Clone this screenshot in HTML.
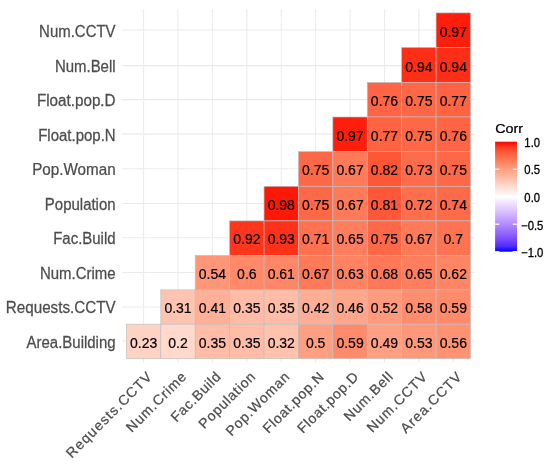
<!DOCTYPE html>
<html lang="en"><head><meta charset="utf-8"><title>Correlation heatmap</title>
<style>html,body{margin:0;padding:0;background:#fff}svg{display:block}text{font-family:"Liberation Sans",sans-serif}</style></head><body>
<svg width="550" height="465" viewBox="0 0 550 465">
<rect width="550" height="465" fill="#fff"/>
<g stroke="#EBEBEB" stroke-width="1.05" fill="none">
<line x1="143.61" y1="9.10" x2="143.61" y2="362.40"/>
<line x1="121.93" y1="29.95" x2="474.63" y2="29.95"/>
<line x1="178.02" y1="9.10" x2="178.02" y2="362.40"/>
<line x1="121.93" y1="65.60" x2="474.63" y2="65.60"/>
<line x1="212.43" y1="9.10" x2="212.43" y2="362.40"/>
<line x1="121.93" y1="99.60" x2="474.63" y2="99.60"/>
<line x1="246.84" y1="9.10" x2="246.84" y2="362.40"/>
<line x1="121.93" y1="134.10" x2="474.63" y2="134.10"/>
<line x1="281.25" y1="9.10" x2="281.25" y2="362.40"/>
<line x1="121.93" y1="168.80" x2="474.63" y2="168.80"/>
<line x1="315.66" y1="9.10" x2="315.66" y2="362.40"/>
<line x1="121.93" y1="203.40" x2="474.63" y2="203.40"/>
<line x1="350.07" y1="9.10" x2="350.07" y2="362.40"/>
<line x1="121.93" y1="237.80" x2="474.63" y2="237.80"/>
<line x1="384.48" y1="9.10" x2="384.48" y2="362.40"/>
<line x1="121.93" y1="272.40" x2="474.63" y2="272.40"/>
<line x1="418.88" y1="9.10" x2="418.88" y2="362.40"/>
<line x1="121.93" y1="307.00" x2="474.63" y2="307.00"/>
<line x1="453.30" y1="9.10" x2="453.30" y2="362.40"/>
<line x1="121.93" y1="341.10" x2="474.63" y2="341.10"/>
</g>
<g stroke="#BEBEBE" stroke-width="0.65">
<rect x="436.09" y="12.90" width="34.41" height="34.50" fill="#FF1E0C"/>
<rect x="401.68" y="47.40" width="34.41" height="35.10" fill="#FF2E16"/>
<rect x="436.09" y="47.40" width="34.41" height="35.10" fill="#FF2E16"/>
<rect x="367.27" y="82.50" width="34.41" height="34.50" fill="#FF6544"/>
<rect x="401.68" y="82.50" width="34.41" height="34.50" fill="#FF6846"/>
<rect x="436.09" y="82.50" width="34.41" height="34.50" fill="#FF6341"/>
<rect x="332.86" y="117.00" width="34.41" height="34.60" fill="#FF1E0C"/>
<rect x="367.27" y="117.00" width="34.41" height="34.60" fill="#FF6341"/>
<rect x="401.68" y="117.00" width="34.41" height="34.60" fill="#FF6846"/>
<rect x="436.09" y="117.00" width="34.41" height="34.60" fill="#FF6544"/>
<rect x="298.45" y="151.60" width="34.41" height="34.70" fill="#FF6846"/>
<rect x="332.86" y="151.60" width="34.41" height="34.70" fill="#FF7A59"/>
<rect x="367.27" y="151.60" width="34.41" height="34.70" fill="#FF5636"/>
<rect x="401.68" y="151.60" width="34.41" height="34.70" fill="#FF6C4B"/>
<rect x="436.09" y="151.60" width="34.41" height="34.70" fill="#FF6846"/>
<rect x="264.04" y="186.30" width="34.41" height="34.60" fill="#FF1708"/>
<rect x="298.45" y="186.30" width="34.41" height="34.60" fill="#FF6846"/>
<rect x="332.86" y="186.30" width="34.41" height="34.60" fill="#FF7A59"/>
<rect x="367.27" y="186.30" width="34.41" height="34.60" fill="#FF5838"/>
<rect x="401.68" y="186.30" width="34.41" height="34.60" fill="#FF6F4D"/>
<rect x="436.09" y="186.30" width="34.41" height="34.60" fill="#FF6A49"/>
<rect x="229.63" y="220.90" width="34.41" height="34.50" fill="#FF361C"/>
<rect x="264.04" y="220.90" width="34.41" height="34.50" fill="#FF3219"/>
<rect x="298.45" y="220.90" width="34.41" height="34.50" fill="#FF7150"/>
<rect x="332.86" y="220.90" width="34.41" height="34.50" fill="#FF7E5E"/>
<rect x="367.27" y="220.90" width="34.41" height="34.50" fill="#FF6846"/>
<rect x="401.68" y="220.90" width="34.41" height="34.50" fill="#FF7A59"/>
<rect x="436.09" y="220.90" width="34.41" height="34.50" fill="#FF7352"/>
<rect x="195.22" y="255.40" width="34.41" height="34.50" fill="#FF9678"/>
<rect x="229.63" y="255.40" width="34.41" height="34.50" fill="#FF8969"/>
<rect x="264.04" y="255.40" width="34.41" height="34.50" fill="#FF8767"/>
<rect x="298.45" y="255.40" width="34.41" height="34.50" fill="#FF7A59"/>
<rect x="332.86" y="255.40" width="34.41" height="34.50" fill="#FF8362"/>
<rect x="367.27" y="255.40" width="34.41" height="34.50" fill="#FF7857"/>
<rect x="401.68" y="255.40" width="34.41" height="34.50" fill="#FF7E5E"/>
<rect x="436.09" y="255.40" width="34.41" height="34.50" fill="#FF8565"/>
<rect x="160.81" y="289.90" width="34.41" height="34.30" fill="#FFC4B0"/>
<rect x="195.22" y="289.90" width="34.41" height="34.30" fill="#FFB097"/>
<rect x="229.63" y="289.90" width="34.41" height="34.30" fill="#FFBCA6"/>
<rect x="264.04" y="289.90" width="34.41" height="34.30" fill="#FFBCA6"/>
<rect x="298.45" y="289.90" width="34.41" height="34.30" fill="#FFAE95"/>
<rect x="332.86" y="289.90" width="34.41" height="34.30" fill="#FFA68B"/>
<rect x="367.27" y="289.90" width="34.41" height="34.30" fill="#FF9A7C"/>
<rect x="401.68" y="289.90" width="34.41" height="34.30" fill="#FF8D6E"/>
<rect x="436.09" y="289.90" width="34.41" height="34.30" fill="#FF8B6C"/>
<rect x="126.40" y="324.20" width="34.41" height="34.40" fill="#FFD3C4"/>
<rect x="160.81" y="324.20" width="34.41" height="34.40" fill="#FFD9CB"/>
<rect x="195.22" y="324.20" width="34.41" height="34.40" fill="#FFBCA6"/>
<rect x="229.63" y="324.20" width="34.41" height="34.40" fill="#FFBCA6"/>
<rect x="264.04" y="324.20" width="34.41" height="34.40" fill="#FFC2AD"/>
<rect x="298.45" y="324.20" width="34.41" height="34.40" fill="#FF9E81"/>
<rect x="332.86" y="324.20" width="34.41" height="34.40" fill="#FF8B6C"/>
<rect x="367.27" y="324.20" width="34.41" height="34.40" fill="#FFA084"/>
<rect x="401.68" y="324.20" width="34.41" height="34.40" fill="#FF987A"/>
<rect x="436.09" y="324.20" width="34.41" height="34.40" fill="#FF9273"/>
</g>
<g font-size="14.0" fill="#000" stroke="#000" stroke-width="0.2" text-anchor="middle">
<text x="453.30" y="36.51">0.97</text>
<text x="418.88" y="71.91">0.94</text>
<text x="453.30" y="71.91">0.94</text>
<text x="384.48" y="106.31">0.76</text>
<text x="418.88" y="106.31">0.75</text>
<text x="453.30" y="106.31">0.77</text>
<text x="350.07" y="140.61">0.97</text>
<text x="384.48" y="140.61">0.77</text>
<text x="418.88" y="140.61">0.75</text>
<text x="453.30" y="140.61">0.76</text>
<text x="315.66" y="175.11">0.75</text>
<text x="350.07" y="175.11">0.67</text>
<text x="384.48" y="175.11">0.82</text>
<text x="418.88" y="175.11">0.73</text>
<text x="453.30" y="175.11">0.75</text>
<text x="281.25" y="209.61">0.98</text>
<text x="315.66" y="209.61">0.75</text>
<text x="350.07" y="209.61">0.67</text>
<text x="384.48" y="209.61">0.81</text>
<text x="418.88" y="209.61">0.72</text>
<text x="453.30" y="209.61">0.74</text>
<text x="246.84" y="244.11">0.92</text>
<text x="281.25" y="244.11">0.93</text>
<text x="315.66" y="244.11">0.71</text>
<text x="350.07" y="244.11">0.65</text>
<text x="384.48" y="244.11">0.75</text>
<text x="418.88" y="244.11">0.67</text>
<text x="453.30" y="244.11">0.7</text>
<text x="212.43" y="278.61">0.54</text>
<text x="246.84" y="278.61">0.6</text>
<text x="281.25" y="278.61">0.61</text>
<text x="315.66" y="278.61">0.67</text>
<text x="350.07" y="278.61">0.63</text>
<text x="384.48" y="278.61">0.68</text>
<text x="418.88" y="278.61">0.65</text>
<text x="453.30" y="278.61">0.62</text>
<text x="178.02" y="313.11">0.31</text>
<text x="212.43" y="313.11">0.41</text>
<text x="246.84" y="313.11">0.35</text>
<text x="281.25" y="313.11">0.35</text>
<text x="315.66" y="313.11">0.42</text>
<text x="350.07" y="313.11">0.46</text>
<text x="384.48" y="313.11">0.52</text>
<text x="418.88" y="313.11">0.58</text>
<text x="453.30" y="313.11">0.59</text>
<text x="143.61" y="347.61">0.23</text>
<text x="178.02" y="347.61">0.2</text>
<text x="212.43" y="347.61">0.35</text>
<text x="246.84" y="347.61">0.35</text>
<text x="281.25" y="347.61">0.32</text>
<text x="315.66" y="347.61">0.5</text>
<text x="350.07" y="347.61">0.59</text>
<text x="384.48" y="347.61">0.49</text>
<text x="418.88" y="347.61">0.53</text>
<text x="453.30" y="347.61">0.56</text>
</g>
<g font-size="15.6" fill="#4D4D4D" stroke="#4D4D4D" stroke-width="0.25" text-anchor="end">
<text transform="translate(115.60,37.15) scale(0.960,1)">Num.CCTV</text>
<text transform="translate(115.60,71.65) scale(0.960,1)">Num.Bell</text>
<text transform="translate(115.60,106.05) scale(0.977,1)">Float.pop.D</text>
<text transform="translate(115.60,140.60) scale(0.960,1)">Float.pop.N</text>
<text transform="translate(115.60,175.45) scale(0.976,1)">Pop.Woman</text>
<text transform="translate(115.60,209.80) scale(0.960,1)">Population</text>
<text transform="translate(115.60,244.35) scale(0.960,1)">Fac.Build</text>
<text transform="translate(115.60,278.95) scale(0.960,1)">Num.Crime</text>
<text transform="translate(115.60,313.35) scale(0.975,1)">Requests.CCTV</text>
<text transform="translate(115.60,348.20) scale(0.960,1)">Area.Building</text>
</g>
<g font-size="14.0" fill="#4D4D4D" stroke="#4D4D4D" stroke-width="0.25" text-anchor="end">
<text transform="translate(145.61,370.70) rotate(-45)" x="1.10" y="10.02" letter-spacing="1.1">Requests.CCTV</text>
<text transform="translate(180.02,370.70) rotate(-45)" x="0.92" y="10.02" letter-spacing="0.92">Num.Crime</text>
<text transform="translate(214.43,370.70) rotate(-45)" x="0.66" y="10.02" letter-spacing="0.66">Fac.Build</text>
<text transform="translate(248.84,370.70) rotate(-45)" x="0.77" y="10.02" letter-spacing="0.77">Population</text>
<text transform="translate(283.25,370.70) rotate(-45)" x="0.82" y="10.02" letter-spacing="0.82">Pop.Woman</text>
<text transform="translate(317.66,370.70) rotate(-45)" x="0.72" y="10.02" letter-spacing="0.72">Float.pop.N</text>
<text transform="translate(352.07,370.70) rotate(-45)" x="0.72" y="10.02" letter-spacing="0.72">Float.pop.D</text>
<text transform="translate(386.48,370.70) rotate(-45)" x="0.80" y="10.02" letter-spacing="0.8">Num.Bell</text>
<text transform="translate(420.88,370.70) rotate(-45)" x="1.00" y="10.02" letter-spacing="1.0">Num.CCTV</text>
<text transform="translate(455.30,370.70) rotate(-45)" x="1.00" y="10.02" letter-spacing="1.0">Area.CCTV</text>
</g>
<defs><linearGradient id="g" x1="0" y1="1" x2="0" y2="0">
<stop offset="0.000" stop-color="#0000FF"/>
<stop offset="0.050" stop-color="#502BFF"/>
<stop offset="0.100" stop-color="#7145FF"/>
<stop offset="0.150" stop-color="#8A5DFF"/>
<stop offset="0.200" stop-color="#A074FF"/>
<stop offset="0.250" stop-color="#B38BFF"/>
<stop offset="0.300" stop-color="#C4A2FF"/>
<stop offset="0.350" stop-color="#D4B9FF"/>
<stop offset="0.400" stop-color="#E3D0FF"/>
<stop offset="0.450" stop-color="#F2E7FF"/>
<stop offset="0.500" stop-color="#FFFFFF"/>
<stop offset="0.550" stop-color="#FFECE5"/>
<stop offset="0.600" stop-color="#FFD9CB"/>
<stop offset="0.650" stop-color="#FFC6B2"/>
<stop offset="0.700" stop-color="#FFB299"/>
<stop offset="0.750" stop-color="#FF9E81"/>
<stop offset="0.800" stop-color="#FF8969"/>
<stop offset="0.850" stop-color="#FF7352"/>
<stop offset="0.900" stop-color="#FF5B3A"/>
<stop offset="0.950" stop-color="#FF3E22"/>
<stop offset="1.000" stop-color="#FF0000"/>
</linearGradient></defs>
<rect x="495.10" y="141.70" width="21.90" height="110.00" fill="url(#g)"/>
<g stroke="#fff" stroke-width="1.2">
<line x1="495.10" y1="169.20" x2="499.40" y2="169.20"/>
<line x1="512.70" y1="169.20" x2="517.00" y2="169.20"/>
<line x1="495.10" y1="196.70" x2="499.40" y2="196.70"/>
<line x1="512.70" y1="196.70" x2="517.00" y2="196.70"/>
<line x1="495.10" y1="224.20" x2="499.40" y2="224.20"/>
<line x1="512.70" y1="224.20" x2="517.00" y2="224.20"/>
<line x1="495.10" y1="251.70" x2="499.40" y2="251.70"/>
<line x1="512.70" y1="251.70" x2="517.00" y2="251.70"/>
</g>
<text transform="translate(495.20,133.00) scale(1.135,1)" font-size="12.6" fill="#000" stroke="#000" stroke-width="0.25">Corr</text>
<g font-size="12.2" fill="#000" stroke="#000" stroke-width="0.3" text-anchor="middle">
<text transform="translate(532.20,146.77) scale(0.925,1)">1.0</text>
<text transform="translate(532.20,174.42) scale(0.925,1)">0.5</text>
<text transform="translate(532.20,202.07) scale(0.925,1)">0.0</text>
<text transform="translate(532.20,229.72) scale(0.925,1)">−0.5</text>
<text transform="translate(532.20,257.37) scale(0.925,1)">−1.0</text>
</g>
</svg></body></html>
